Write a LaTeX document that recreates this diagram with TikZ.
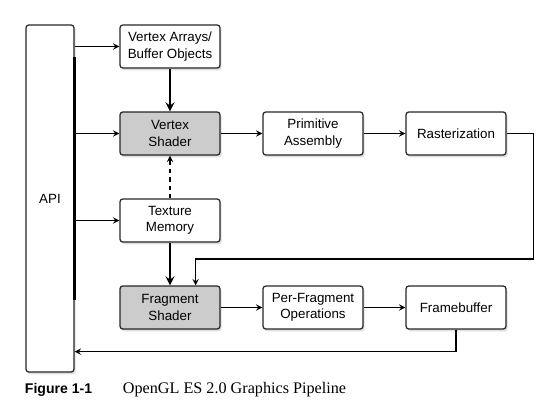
\documentclass[tikz,border=0pt]{standalone}
\usepackage{fontspec}
\setmainfont{Liberation Serif}
\newfontfamily\boxfont{Liberation Sans}
\usepackage{tikz}
\usetikzlibrary{arrows, positioning, shadows}
\tikzstyle{arrow} = [line width=1pt,->,>=stealth]
\tikzstyle{bigarrow} = [line width=1.8pt,->,>=stealth]
\tikzstyle{stage} = [rectangle, rounded corners=2pt, minimum width=2.5cm, minimum height=1.075cm, text centered, align=center, draw=black!85, line width=0.9pt, fill=white, font=\boxfont\fontsize{9.5}{11.5}\selectfont, drop shadow={shadow xshift=0.04cm, shadow yshift=-0.06cm, opacity=0.25}]
\tikzstyle{shader} = [stage, fill=black!20]

\begin{document}
\begin{tikzpicture}[node distance=2.175cm]
\useasboundingbox (0,0) rectangle (13.85,-10.15);

% Nodes for Pipeline
\node (api) [stage, minimum width=1.2cm, minimum height=8.675cm] at (1.25,-4.9625) {API};
\node (va) [stage] at (4.25,-1.1625) {Vertex Arrays/\\Buffer Objects};
\node (vs) [shader, below of=va] {Vertex\\Shader};
\node (tm) [stage, below of=vs] {Texture\\Memory};
\node (fs) [shader, below of=tm] {Fragment\\Shader};
\node (pa) [stage, right of=vs, xshift=1.4cm] {Primitive\\Assembly};
\node (rast) [stage, right of=pa, xshift=1.4cm] {Rasterization};
\node (pfo) [stage, right of=fs, xshift=1.4cm] {Per-Fragment\\Operations};
\node (fb) [stage, right of=pfo, xshift=1.4cm] {Framebuffer};
\draw [line width=1.8pt] ([yshift=-0.825cm]api.north east) -- ([yshift=1.825cm]api.south east);

% Connecting the Nodes with Arrows
\draw [arrow] (api.east |- va) -- (va);
\draw [arrow] (api.east |- vs) -- (vs);
\draw [arrow] (api.east |- tm) -- (tm);
\draw [bigarrow] (va) -- (vs);
\draw [arrow, dashed] (tm) -- (vs);
\draw [bigarrow] (tm) -- (fs);
\draw [arrow] (vs) -- (pa);
\draw [arrow] (pa) -- (rast);
\draw [arrow] (rast.east) -- ++(0.675,0) |- ([xshift=0.64cm,yshift=0.66cm]fs.north) -- ([xshift=0.64cm]fs.north);
\draw [arrow] (fs) -- (pfo);
\draw [arrow] (pfo) -- (fb);
\draw [arrow] (fb.south) -- ++(0,-0.55) coordinate (back) -- (api.east |- back);

% Caption
\node (fig) [anchor=west, font=\boxfont\bfseries\fontsize{10}{12}\selectfont] at (0.5,-9.75) {Figure 1-1};
\node (title) [anchor=west, font=\fontsize{11.5}{14}\selectfont] at (2.95,-9.75) {OpenGL ES 2.0 Graphics Pipeline};

\end{tikzpicture}
\end{document}
